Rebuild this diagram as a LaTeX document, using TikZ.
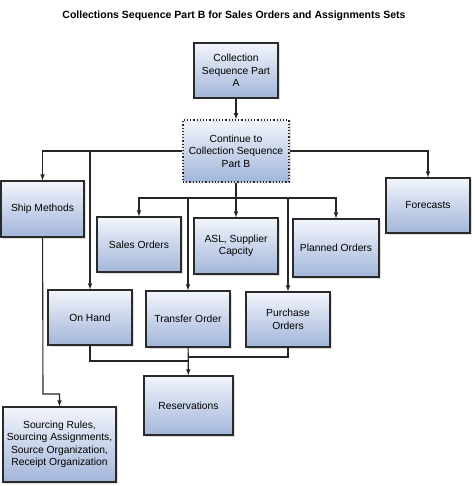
\documentclass[tikz,border=0pt]{standalone}
\usepackage{fontspec}
\setmainfont{Liberation Sans}
\usepackage{tikz}
\usetikzlibrary{arrows, shadows, positioning}

\definecolor{boxtop}{HTML}{F2F5FB}
\definecolor{boxbot}{HTML}{A2B5DA}
\definecolor{boxline}{HTML}{2A2A2A}

\tikzset{
    seqbox/.style={draw=boxline, line width=1.2pt, top color=boxtop, bottom color=boxbot,
        drop shadow={shadow xshift=1.5pt, shadow yshift=-1.5pt, fill=black!25},
        align=center, inner sep=2pt, font=\fontsize{10.3}{12.5}\selectfont},
    link/.style={draw=black!85, line width=1.1pt}
}

\begin{document}
\begin{tikzpicture}[x=1pt, y=-1pt, >=latex]
                                \useasboundingbox (0,0) rectangle (474,486);
                                \node[font=\bfseries\fontsize{10.5}{12}\selectfont] (title) at (234,16) {Collections Sequence Part B for Sales Orders and Assignments Sets};

                                \node[seqbox, minimum width=84pt, minimum height=55pt] (a) at (236,70.5) {Collection\\Sequence Part\\A};
                                \node[seqbox, minimum width=106pt, minimum height=62pt, dotted, line width=1.3pt] (b) at (236,151) {Continue to\\Collection Sequence\\Part B};
                                \node[seqbox, minimum width=83pt, minimum height=56pt] (ship) at (42.5,209) {Ship Methods};
                                \node[seqbox, minimum width=84pt, minimum height=55pt] (fore) at (428,205.5) {Forecasts};
                                \node[seqbox, minimum width=84pt, minimum height=55pt] (sales) at (139,244.5) {Sales Orders};
                                \node[seqbox, minimum width=84pt, minimum height=56pt] (asl) at (236,246) {ASL, Supplier\\Capcity};
                                \node[seqbox, minimum width=86pt, minimum height=58pt] (plan) at (336,248) {Planned Orders};
                                \node[seqbox, minimum width=84pt, minimum height=55pt] (onhand) at (90,317.5) {On Hand};
                                \node[seqbox, minimum width=84pt, minimum height=56pt] (transfer) at (188,319) {Transfer Order};
                                \node[seqbox, minimum width=84pt, minimum height=55pt] (purch) at (288,319.5) {Purchase\\Orders};
                                \node[seqbox, minimum width=89pt, minimum height=59pt] (resv) at (188.5,405.5) {Reservations};
                                \node[seqbox, minimum width=113pt, minimum height=75pt] (src) at (59.5,444.5) {Sourcing Rules,\\Sourcing Assignments,\\Source Organization,\\Receipt Organization};

                                \coordinate (bus) at (236,198);
                                \coordinate (shipkink) at (43,394);
                                \coordinate (ohjoin) at (188,361);
                                \coordinate (pojoin) at (188,357);

                                \draw[link, ->] (a) -- (b);
                                \draw[link, ->] (b.west) -| (ship);
                                \draw[link, ->] (b.west) -| (onhand);
                                \draw[link, ->] (b.east) -| (fore);
                                \draw[link, ->] (b) -- (asl);
                                \draw[link, ->] (bus) -| (sales);
                                \draw[link, ->] (bus) -| (plan);
                                \draw[link, ->] (bus) -| (transfer);
                                \draw[link, ->] (bus) -| (purch);
                                \draw[link, ->] (ship) -- (shipkink) -| (src);
                                \draw[link] (onhand) |- (ohjoin);
                                \draw[link] (purch) |- (pojoin);
                                \draw[link, ->] (transfer) -- (resv);
                            \end{tikzpicture}
\end{document}
